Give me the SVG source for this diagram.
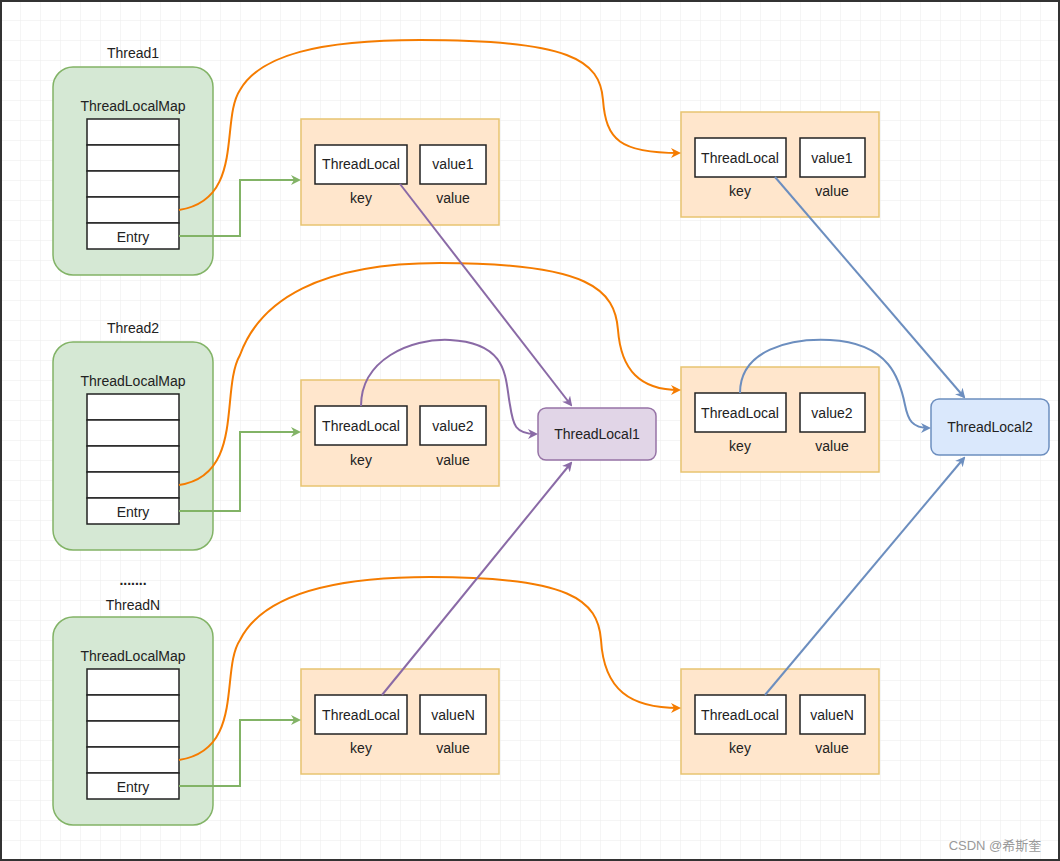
<svg xmlns="http://www.w3.org/2000/svg" width="1060" height="861" viewBox="0 0 1060 861">
<defs>
<pattern id="grid" width="20" height="20" patternUnits="userSpaceOnUse"><path d="M20 0H0V20" fill="none" stroke="#ececec" stroke-width="1"/></pattern>
<marker id="ag" markerWidth="10" markerHeight="10" refX="8" refY="5" orient="auto" markerUnits="userSpaceOnUse"><path d="M0,0 L10,5 L0,10 L3,5Z" fill="#82b366"/></marker>
<marker id="ao" markerWidth="10" markerHeight="10" refX="8" refY="5" orient="auto" markerUnits="userSpaceOnUse"><path d="M0,0 L10,5 L0,10 L3,5Z" fill="#f57c00"/></marker>
<marker id="ap" markerWidth="10" markerHeight="10" refX="8" refY="5" orient="auto" markerUnits="userSpaceOnUse"><path d="M0,0 L10,5 L0,10 L3,5Z" fill="#8a6aa6"/></marker>
<marker id="ab" markerWidth="10" markerHeight="10" refX="8" refY="5" orient="auto" markerUnits="userSpaceOnUse"><path d="M0,0 L10,5 L0,10 L3,5Z" fill="#6c8ebf"/></marker>
</defs>
<style>
text{font-family:"Liberation Sans",Arial,sans-serif;font-size:14px;fill:#222;text-anchor:middle}
.thread{fill:#d5e8d4;stroke:#82b366;stroke-width:1.5}
.row{fill:#fff;stroke:#222;stroke-width:1.5}
.entry{fill:#ffe6cc;stroke:#e8c470;stroke-width:1.5}
.in{fill:#fff;stroke:#222;stroke-width:1.5}
.g{fill:none;stroke:#82b366;stroke-width:2;marker-end:url(#ag)}
.o{fill:none;stroke:#f57c00;stroke-width:2;marker-end:url(#ao)}
.p{fill:none;stroke:#8a6aa6;stroke-width:2;marker-end:url(#ap)}
.b{fill:none;stroke:#6c8ebf;stroke-width:2;marker-end:url(#ab)}
</style>
<rect width="1060" height="861" fill="#fff"/>
<rect width="1060" height="861" fill="url(#grid)"/>
<rect x="1" y="1" width="1058" height="859" fill="none" stroke="#333" stroke-width="2"/>

<g id="thread1">
<text x="133" y="58">Thread1</text>
<rect class="thread" x="53" y="67" width="160" height="208" rx="20"/>
<text x="133" y="111">ThreadLocalMap</text>
<rect class="row" x="87" y="119" width="92" height="26"/><rect class="row" x="87" y="145" width="92" height="26"/><rect class="row" x="87" y="171" width="92" height="26"/><rect class="row" x="87" y="197" width="92" height="26"/><rect class="row" x="87" y="223" width="92" height="26"/>
<text x="133" y="242">Entry</text>
</g>
<g id="thread2">
<text x="133" y="333">Thread2</text>
<rect class="thread" x="53" y="342" width="160" height="208" rx="20"/>
<text x="133" y="386">ThreadLocalMap</text>
<rect class="row" x="87" y="394" width="92" height="26"/><rect class="row" x="87" y="420" width="92" height="26"/><rect class="row" x="87" y="446" width="92" height="26"/><rect class="row" x="87" y="472" width="92" height="26"/><rect class="row" x="87" y="498" width="92" height="26"/>
<text x="133" y="517">Entry</text>
</g>
<g id="dots"><text x="133" y="585" style="font-weight:bold">.......</text></g>
<g id="threadN">
<text x="133" y="610">ThreadN</text>
<rect class="thread" x="53" y="617" width="160" height="208" rx="20"/>
<text x="133" y="661">ThreadLocalMap</text>
<rect class="row" x="87" y="669" width="92" height="26"/><rect class="row" x="87" y="695" width="92" height="26"/><rect class="row" x="87" y="721" width="92" height="26"/><rect class="row" x="87" y="747" width="92" height="26"/><rect class="row" x="87" y="773" width="92" height="26"/>
<text x="133" y="792">Entry</text>
</g>

<g id="entry1a"><rect class="entry" x="301" y="119" width="198" height="106"/><rect class="in" x="315" y="145" width="92" height="39"/><text x="361" y="169">ThreadLocal</text><rect class="in" x="420" y="145" width="66" height="39"/><text x="453" y="169">value1</text><text x="361" y="203">key</text><text x="453" y="203">value</text></g>
<g id="entry2a"><rect class="entry" x="301" y="380" width="198" height="106"/><rect class="in" x="315" y="406" width="92" height="39"/><text x="361" y="431">ThreadLocal</text><rect class="in" x="420" y="406" width="66" height="39"/><text x="453" y="431">value2</text><text x="361" y="465">key</text><text x="453" y="465">value</text></g>
<g id="entryNa"><rect class="entry" x="301" y="669" width="198" height="105"/><rect class="in" x="315" y="695" width="92" height="39"/><text x="361" y="720">ThreadLocal</text><rect class="in" x="420" y="695" width="66" height="39"/><text x="453" y="720">valueN</text><text x="361" y="753">key</text><text x="453" y="753">value</text></g>

<g id="entry1b"><rect class="entry" x="681" y="112" width="198" height="105"/><rect class="in" x="695" y="138" width="91" height="39"/><text x="740" y="163">ThreadLocal</text><rect class="in" x="800" y="138" width="65" height="39"/><text x="832" y="163">value1</text><text x="740" y="196">key</text><text x="832" y="196">value</text></g>
<g id="entry2b"><rect class="entry" x="681" y="367" width="198" height="105"/><rect class="in" x="695" y="393" width="91" height="39"/><text x="740" y="418">ThreadLocal</text><rect class="in" x="800" y="393" width="65" height="39"/><text x="832" y="418">value2</text><text x="740" y="451">key</text><text x="832" y="451">value</text></g>
<g id="entryNb"><rect class="entry" x="681" y="669" width="198" height="105"/><rect class="in" x="695" y="695" width="91" height="39"/><text x="740" y="720">ThreadLocal</text><rect class="in" x="800" y="695" width="65" height="39"/><text x="832" y="720">valueN</text><text x="740" y="753">key</text><text x="832" y="753">value</text></g>

<g id="tl1"><rect x="538" y="408" width="118" height="52" rx="8" fill="#e1d5e7" stroke="#9673a6" stroke-width="1.5"/><text x="597" y="439">ThreadLocal1</text></g>
<g id="tl2"><rect x="931" y="399" width="118" height="56" rx="8" fill="#dae8fc" stroke="#6c8ebf" stroke-width="1.5"/><text x="990" y="432">ThreadLocal2</text></g>

<g id="connectors">
<path class="g" d="M179,236H240V180H299"/>
<path class="g" d="M179,511H240V432H299"/>
<path class="g" d="M179,786H240V720H299"/>
<path class="o" d="M179,210C245,200 220,120 240,90C260,55 320,40 420,40C570,40 600,60 603,100C606,140 620,153 679,153"/>
<path class="o" d="M179,485C245,475 220,390 240,355C260,300 320,263 440,263C590,263 615,290 618,330C621,370 640,390 679,390"/>
<path class="o" d="M179,760C245,750 220,670 240,640C260,600 320,577 430,577C570,577 598,600 601,640C604,690 630,708 679,708"/>
<path class="p" d="M400,184L571,405"/>
<path class="p" d="M361,406C361,360 410,338 450,340C510,343 505,380 510,405C513,425 515,434 536,434"/>
<path class="p" d="M382,695L571,463"/>
<path class="b" d="M775,177L964,397"/>
<path class="b" d="M740,393C740,350 790,338 830,340C890,343 900,380 905,405C908,420 912,428 929,428"/>
<path class="b" d="M765,695L964,458"/>
</g>
<text x="995" y="850" style="font-size:13px;fill:#999;font-family:'Liberation Sans','Noto Sans CJK SC',sans-serif">CSDN @希斯奎</text>
</svg>
